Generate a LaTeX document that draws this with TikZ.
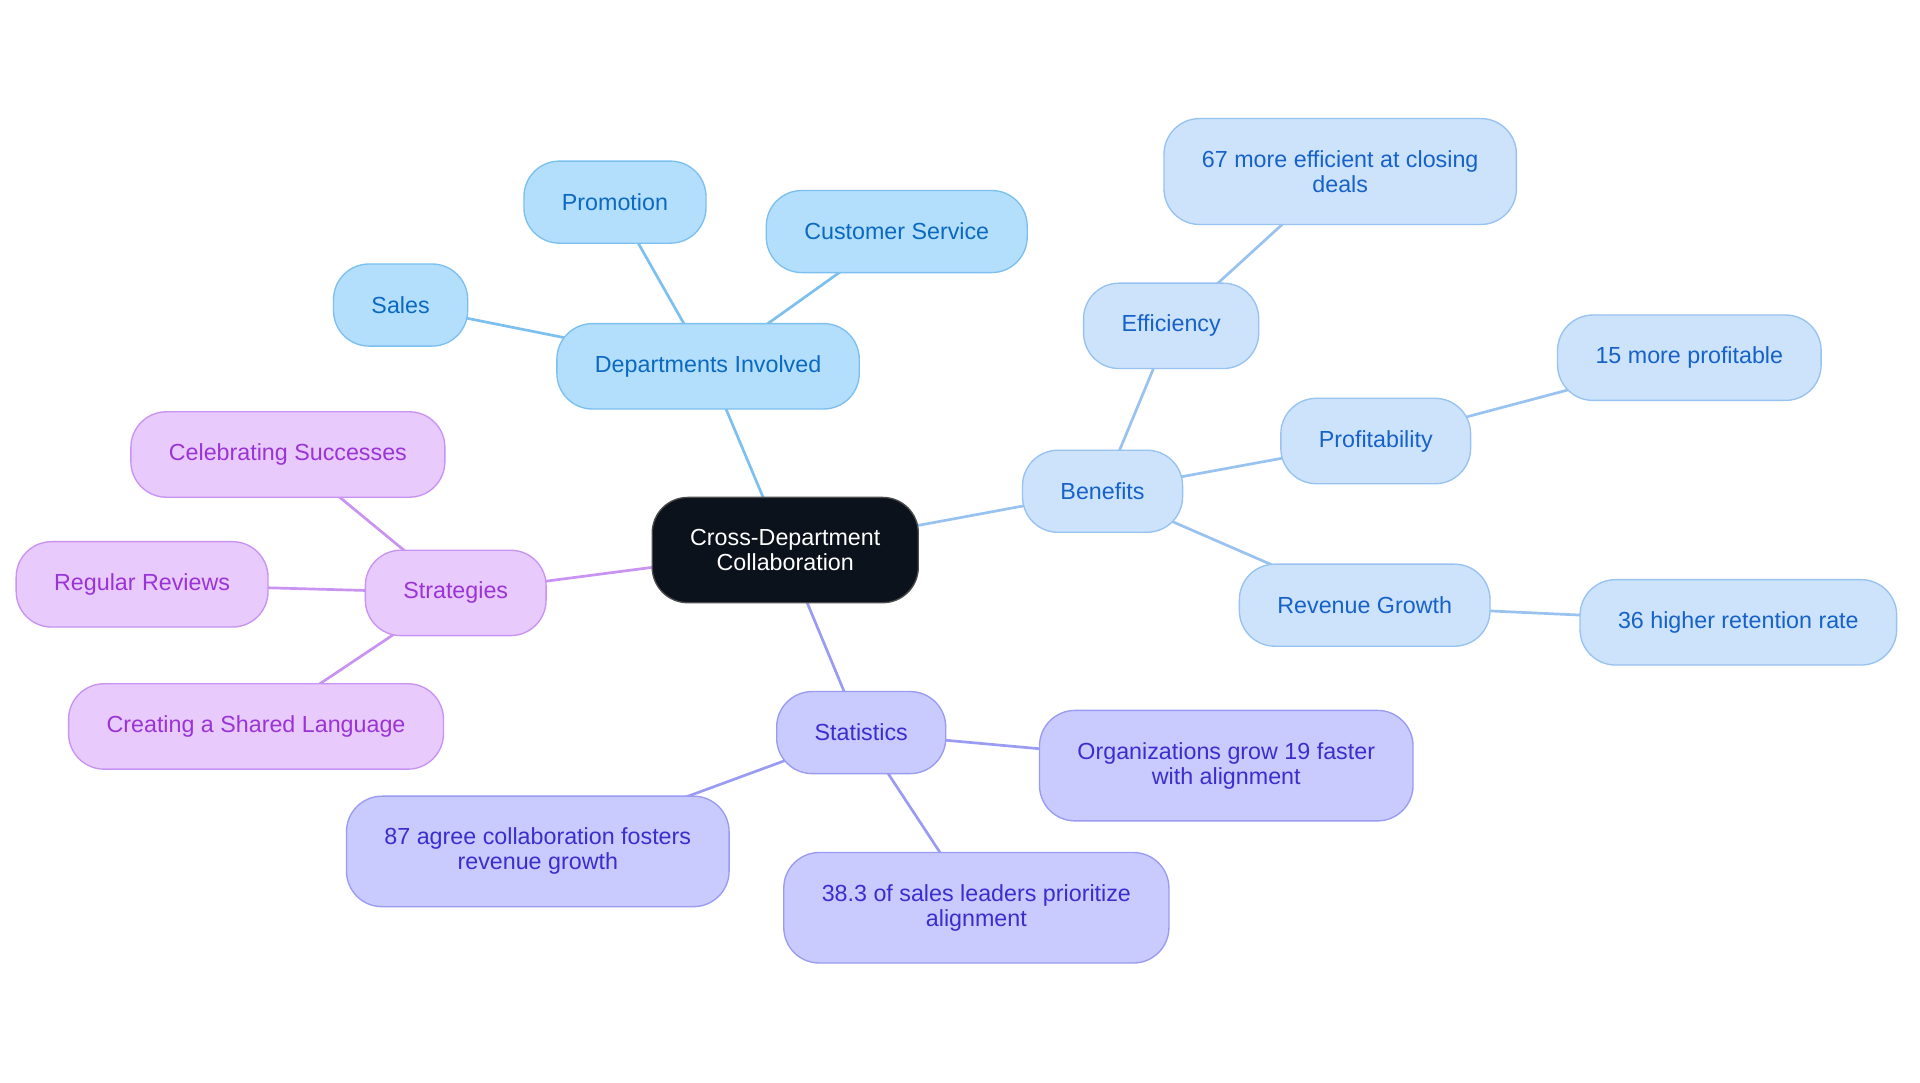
\documentclass[tikz,border=0pt]{standalone}
\usepackage{fontspec}
\setmainfont{Liberation Sans}
\usetikzlibrary{backgrounds}

\definecolor{hubfill}{HTML}{0C121B}
\definecolor{deptfill}{HTML}{B3DFFD}
\definecolor{deptdraw}{HTML}{7CC0F0}
\definecolor{depttext}{HTML}{0B69C0}
\definecolor{benefill}{HTML}{CCE3FB}
\definecolor{benedraw}{HTML}{98C2F0}
\definecolor{benetext}{HTML}{1662C8}
\definecolor{stratfill}{HTML}{E8CAFD}
\definecolor{stratdraw}{HTML}{C893F2}
\definecolor{strattext}{HTML}{9A34D6}
\definecolor{statfill}{HTML}{C9CAFD}
\definecolor{statdraw}{HTML}{9A9BF2}
\definecolor{stattext}{HTML}{3A2FCE}

\tikzset{
  topic/.style={rounded corners=29pt, draw, line width=1.1pt, inner xsep=31pt,
    inner ysep=26pt, minimum height=67pt, align=center,
    font=\fontsize{19}{20.5}\selectfont},
  hub/.style={topic, fill=hubfill, draw=black!70, text=white},
  dept/.style={topic, fill=deptfill, draw=deptdraw, text=depttext},
  bene/.style={topic, fill=benefill, draw=benedraw, text=benetext},
  strat/.style={topic, fill=stratfill, draw=stratdraw, text=strattext},
  stat/.style={topic, fill=statfill, draw=statdraw, text=stattext},
  link/.style={line width=2.2pt}
}

\begin{document}
\begin{tikzpicture}[x=1pt, y=-1pt]
\useasboundingbox (0,0) rectangle (1567.3,884);
       \node [hub] at (641,449) (hub) {Cross-Department\\Collaboration};
%
          \node [dept] at (578,299) (dept) {Departments Involved};
             \node [dept] at (327,249) (sales) {Sales};
             \node [dept] at (502,165) (promo) {Promotion};
             \node [dept] at (732,189) (custserv) {Customer Service};
%
          \node [bene] at (900,401) (bene) {Benefits};
             \node [bene] at (956,266) (effic) {Efficiency};
               \node [bene] at (1094,140) (effic deals) {67 more efficient at closing\\deals};
             \node [bene] at (1123,360) (profit) {Profitability};
               \node [bene] at (1379,292) (profit more) {15 more profitable};
             \node [bene] at (1114,494) (revgrowth) {Revenue Growth};
               \node [bene] at (1419,508) (revgrowth retention) {36 higher retention rate};
%
          \node [strat] at (372,484) (strat) {Strategies};
             \node [strat] at (235,371) (celebr) {Celebrating Successes};
             \node [strat] at (116,477) (reviews) {Regular Reviews};
             \node [strat] at (209,593) (language) {Creating a Shared Language};
%
          \node [stat] at (703,598) (stat) {Statistics};
             \node [stat] at (1001,625) (stat grow) {Organizations grow 19 faster\\with alignment};
             \node [stat] at (439,695) (stat agree) {87 agree collaboration fosters\\revenue growth};
             \node [stat] at (797,741) (stat leaders) {38.3 of sales leaders prioritize\\alignment};
%
%
\begin{scope}[on background layer]
\path[link,draw=deptdraw] (hub.center) edge (dept.center);
\path[link,draw=deptdraw] (dept.center) edge (sales.center);
\path[link,draw=deptdraw] (dept.center) edge (promo.center);
\path[link,draw=deptdraw] (dept.center) edge (custserv.center);
\path[link,draw=benedraw] (hub.center) edge (bene.center);
\path[link,draw=benedraw] (bene.center) edge (effic.center);
\path[link,draw=benedraw] (effic.center) edge (effic deals.center);
\path[link,draw=benedraw] (bene.center) edge (profit.center);
\path[link,draw=benedraw] (profit.center) edge (profit more.center);
\path[link,draw=benedraw] (bene.center) edge (revgrowth.center);
\path[link,draw=benedraw] (revgrowth.center) edge (revgrowth retention.center);
\path[link,draw=stratdraw] (hub.center) edge (strat.center);
\path[link,draw=stratdraw] (strat.center) edge (celebr.center);
\path[link,draw=stratdraw] (strat.center) edge (reviews.center);
\path[link,draw=stratdraw] (strat.center) edge (language.center);
\path[link,draw=statdraw] (hub.center) edge (stat.center);
\path[link,draw=statdraw] (stat.center) edge (stat grow.center);
\path[link,draw=statdraw] (stat.center) edge (stat agree.center);
\path[link,draw=statdraw] (stat.center) edge (stat leaders.center);
\end{scope}

\end{tikzpicture}
\end{document}
